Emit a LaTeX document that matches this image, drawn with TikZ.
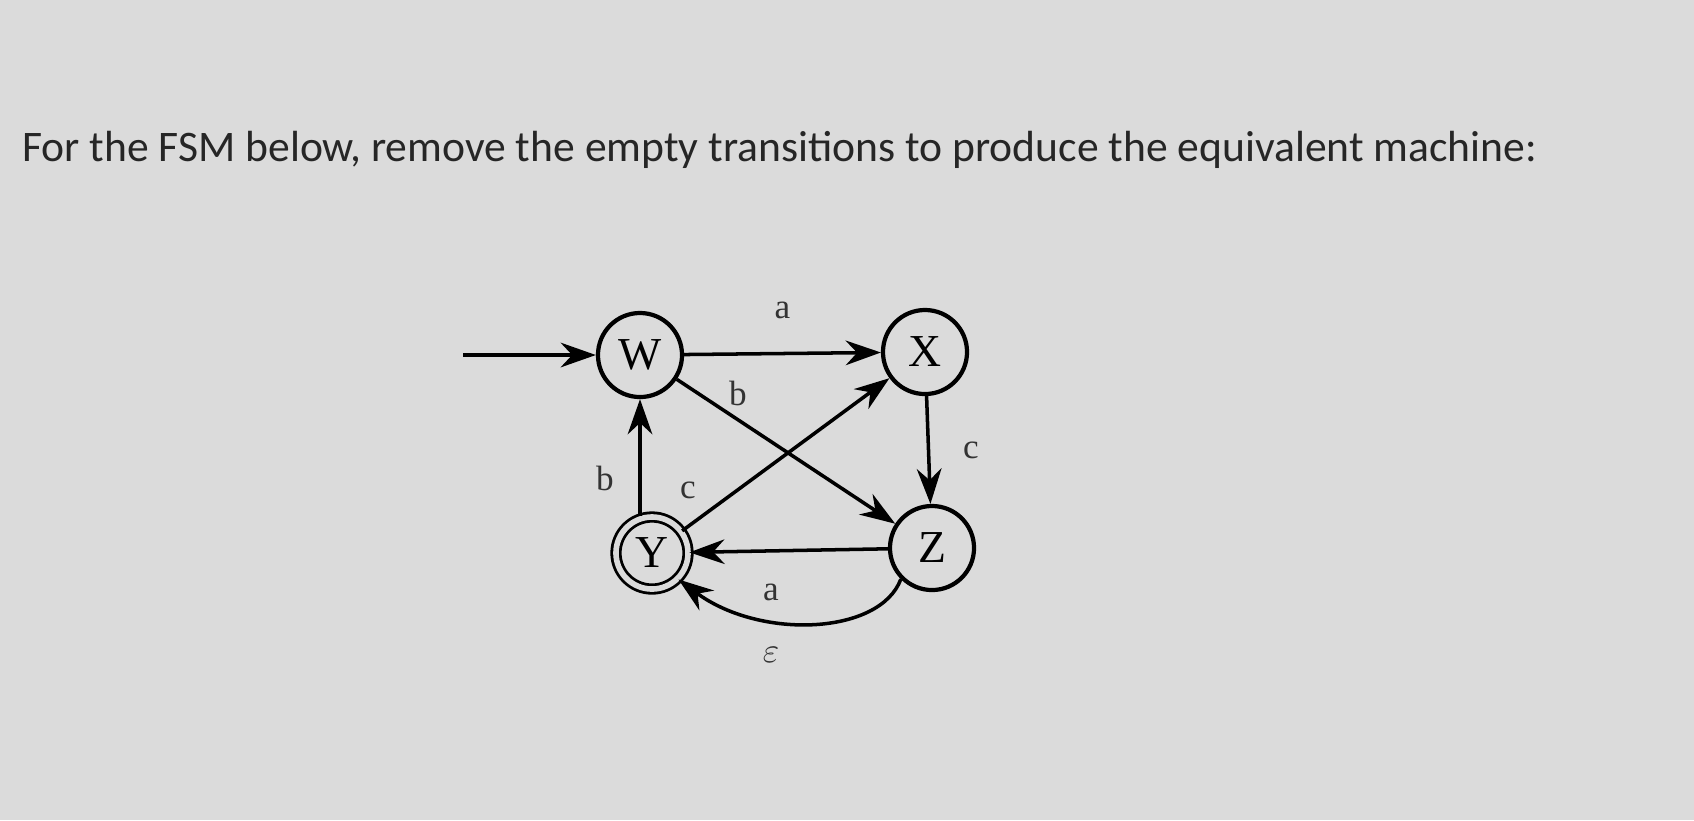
\documentclass[tikz,border=0pt]{standalone}
\usepackage{fontspec}
\setmainfont{Liberation Serif}
\newfontfamily\qfont{Carlito}
\usetikzlibrary{arrows.meta}
\begin{document}
\begin{tikzpicture}[x=0.01cm,y=-0.01cm,
  st/.style={circle,draw,line width=1.2pt,minimum size=0.84cm,inner sep=0pt,font=\fontsize{13}{13}\selectfont},
  acc/.style={st,double=black!14,line width=0.8pt,double distance=1.6pt,minimum size=0.72cm},
  tr/.style={-{Stealth[length=10pt,width=7pt]},line width=1pt},
  lb/.style={font=\fontsize{10}{10}\selectfont,text=black!80}]
\fill[black!14] (0,0) rectangle (1694,820);
\useasboundingbox (0,0) rectangle (1694,820);
\node[anchor=west,font=\qfont\fontsize{12.4}{13}\selectfont,text=black!85] (q) at (10,150) {For the FSM below, remove the empty transitions to produce the equivalent machine:};
\node[st] (W) at (640,355) {W};
\node[st] (X) at (925,352) {X};
\node[acc] (Y) at (652,553) {Y};
\node[st] (Z) at (932,548) {Z};
\coordinate (s) at (463,355);
\draw[tr] (s) -- (W);
\draw[tr] (W) -- node[lb,above=6pt]{a} (X);
\draw[tr] (W) -- (Z);
\node[lb] at (738,393) {b};
\draw[tr] (Y) -- (X);
\node[lb] at (688,490) {c};
\draw[tr] (Y.north -| W.south) -- (W.south);
\node[lb] at (605,478) {b};
\draw[tr] (X) -- node[lb,right=6pt]{c} (Z);
\draw[tr] (Z) -- (Y);
\node[lb] at (771,592) {a};
\draw[tr] (Z.south west) .. controls (880,635) and (760,640) .. (Y.south east);
\node[lb] at (771,655) {$\varepsilon$};
\end{tikzpicture}
\end{document}
